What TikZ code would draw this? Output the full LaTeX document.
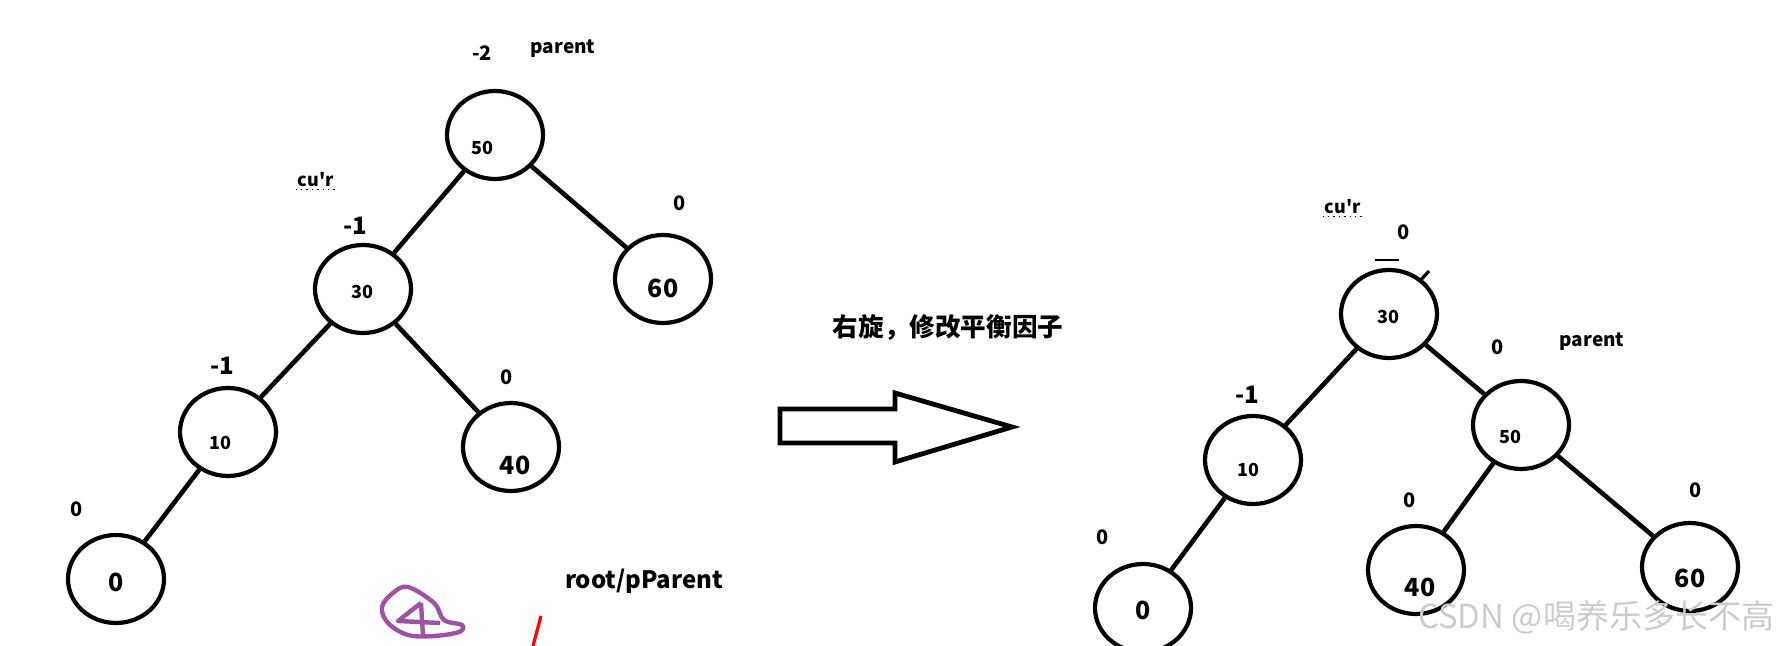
\documentclass[tikz,border=0pt]{standalone}
\usepackage{fontspec}
\setmainfont{Noto Sans CJK SC}
\usetikzlibrary{shapes.geometric}
\definecolor{scribble}{RGB}{160,80,165}

\begin{document}
\begin{tikzpicture}[
        x=0.5pt, y=-0.5pt,
        treenode/.style={draw, ellipse, line width=2.1pt, minimum width=48pt, minimum height=44pt, inner sep=0pt},
        small/.style={font=\fontsize{9}{10}\selectfont\bfseries},
        big/.style={font=\fontsize{12.5}{14}\selectfont\bfseries},
        bal/.style={font=\fontsize{10}{12}\selectfont\bfseries, inner sep=1pt},
        balneg/.style={font=\fontsize{12}{14}\selectfont\bfseries, inner sep=1pt},
        tag/.style={font=\fontsize{9.5}{11}\selectfont\bfseries, inner sep=1pt},
        link/.style={line width=2.3pt}
    ]
        \useasboundingbox (0,0) rectangle (1784,646);
        % before: left tree
        \node[treenode, label={[small, shift={(-13,13)}]center:50}] (l50) at (495,135) {};
        \node[treenode, label={[small, shift={(-1,3)}]center:30}] (l30) at (363,289) {};
        \node[treenode, label={[big, shift={(0,9)}]center:60}] (l60) at (663,279) {};
        \node[treenode, label={[small, shift={(-8,11)}]center:10}] (l10) at (228,432) {};
        \node[treenode, label={[big, shift={(4,18)}]center:40}] (l40) at (511,447) {};
        \node[treenode, label={[big, shift={(0,3)}]center:0}] (l0) at (116,579) {};
        \draw[link] (l50) -- (l30);
        \draw[link] (l50) -- (l60);
        \draw[link] (l30) -- (l10);
        \draw[link] (l30) -- (l40);
        \draw[link] (l10) -- (l0);
        \node[bal] (b50) at (482,53) {-2};
        \node[tag] (par1) at (563,49) {parent};
        \node[small, inner sep=1pt] (cur1) at (316,180) {cu\textquotesingle r};
        \draw[dotted, line width=0.7pt] (cur1.south west) -- (cur1.south east);
        \node[balneg] (b30) at (355,226) {-1};
        \node[bal] (b60) at (680,203) {0};
        \node[balneg] (b10) at (222,366) {-1};
        \node[bal] (b40) at (507,377) {0};
        \node[bal] (b0) at (77,509) {0};
        \node[font=\fontsize{12}{14}\selectfont\bfseries] (root) at (644,581) {root/pParent};
        % hand marks
        \draw[scribble, line width=2.2pt, line join=round] plot[smooth cycle, tension=0.6] coordinates {(408,587) (434,603) (444,620) (462,625) (459,632) (434,636) (408,635) (388,623) (382,607) (393,593)};
        \draw[scribble, line width=2.2pt, line join=round] (421,603) -- (398,621) -- (440,623) (421,603) -- (423,636);
        \draw[red, line width=1.6pt] (541,616) -- (533,646);

        % rotation arrow
        \node[font=\fontsize{12.8}{14}\selectfont\bfseries] (rot) at (948,328) {右旋，修改平衡因子};
        \draw[line width=2.4pt, line join=miter] (780,409) -- (895,409) -- (895,393) -- (1012,427)
            -- (895,462) -- (895,443) -- (780,443) -- cycle;

        % after: right tree
        \node[treenode, label={[small, shift={(-1,3)}]center:30}] (r30) at (1389,314) {};
        \node[treenode, label={[small, shift={(-11,12)}]center:50}] (r50) at (1521,425) {};
        \node[treenode, label={[small, shift={(-5,10)}]center:10}] (r10) at (1253,460) {};
        \node[treenode, label={[big, shift={(4,17)}]center:40}] (r40) at (1416,570) {};
        \node[treenode, label={[big, shift={(0,11)}]center:60}] (r60) at (1690,567) {};
        \node[treenode, label={[big, shift={(0,2)}]center:0}] (r0) at (1143,608) {};
        \draw[link] (r30) -- (r10);
        \draw[link] (r30) -- (r50);
        \draw[link] (r50) -- (r40);
        \draw[link] (r50) -- (r60);
        \draw[link] (r10) -- (r0);
        \node[small, inner sep=1pt] (cur2) at (1343,207) {cu\textquotesingle r};
        \draw[dotted, line width=0.7pt] (cur2.south west) -- (cur2.south east);
        \node[bal] (c30) at (1404,232) {0};
        \draw[line width=0.8pt] (1375,260) -- (1399,260);
        \draw[line width=1.6pt] (1419,282) -- (1429,271);
        \node[bal] (c50) at (1498,347) {0};
        \node[tag] (par2) at (1592,342) {parent};
        \node[balneg] (c10) at (1247,395) {-1};
        \node[bal] (c0) at (1103,537) {0};
        \node[bal] (c40) at (1410,500) {0};
        \node[bal] (c60) at (1696,490) {0};

        \node[text=gray!40, font=\fontsize{16.5}{18}\selectfont] (mark) at (1596,617) {CSDN @喝养乐多长不高};
    \end{tikzpicture}
\end{document}
